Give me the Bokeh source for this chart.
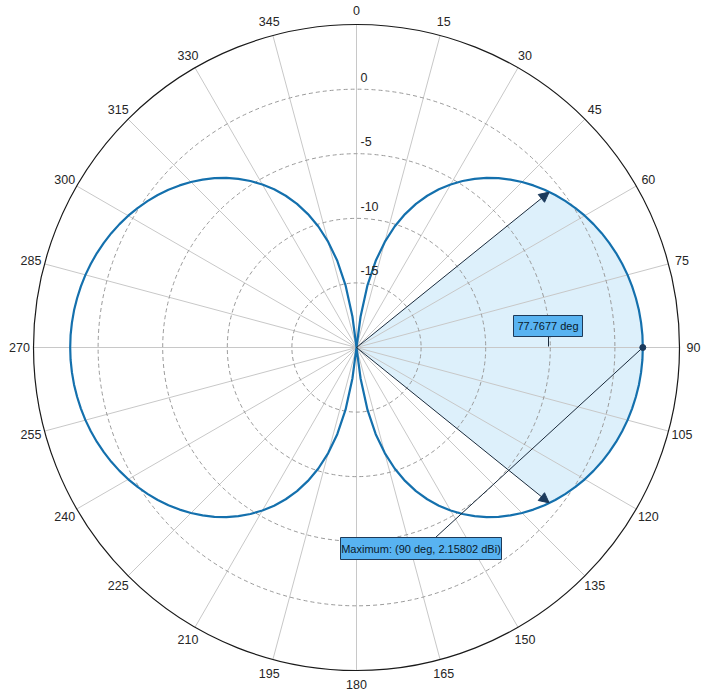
import numpy as np
from bokeh.plotting import figure
from bokeh.models import Arrow, NormalHead
from bokeh.core.properties import value
from bokeh.embed import file_html
from bokeh.resources import INLINE

# ---------------- data ----------------
angles_deg = [i * 2.5 for i in range(144)]  # 0 .. 357.5
gain_dbi = [
    # 0 - 90
    -20.0, -20.0, -20.0, -17.58, -15.09, -13.13, -11.54, -10.18, -9.01, -7.97,
    -7.04, -6.19, -5.43, -4.72, -4.06, -3.46, -2.89, -2.37, -1.88, -1.43,
    -1.00, -0.61, -0.25, 0.09, 0.40, 0.68, 0.94, 1.17, 1.38, 1.56,
    1.72, 1.85, 1.96, 2.05, 2.11, 2.15, 2.16,
    # 92.5 - 180
    2.15, 2.11, 2.05, 1.96, 1.85, 1.72, 1.56, 1.38, 1.17, 0.94,
    0.68, 0.40, 0.09, -0.25, -0.61, -1.00, -1.43, -1.88, -2.37, -2.89,
    -3.46, -4.06, -4.72, -5.43, -6.19, -7.04, -7.97, -9.01, -10.18, -11.54,
    -13.13, -15.09, -17.58, -20.0, -20.0, -20.0,
    # 182.5 - 270
    -20.0, -20.0, -17.58, -15.09, -13.13, -11.54, -10.18, -9.01, -7.97, -7.04,
    -6.19, -5.43, -4.72, -4.06, -3.46, -2.89, -2.37, -1.88, -1.43, -1.00,
    -0.61, -0.25, 0.09, 0.40, 0.68, 0.94, 1.17, 1.38, 1.56, 1.72,
    1.85, 1.96, 2.05, 2.11, 2.15, 2.16,
    # 272.5 - 357.5
    2.15, 2.11, 2.05, 1.96, 1.85, 1.72, 1.56, 1.38, 1.17, 0.94,
    0.68, 0.40, 0.09, -0.25, -0.61, -1.00, -1.43, -1.88, -2.37, -2.89,
    -3.46, -4.06, -4.72, -5.43, -6.19, -7.04, -7.97, -9.01, -10.18, -11.54,
    -13.13, -15.09, -17.58, -20.0, -20.0,
]
angle_ticks = [0, 15, 30, 45, 60, 75, 90, 105, 120, 135, 150, 165,
               180, 195, 210, 225, 240, 255, 270, 285, 300, 315, 330, 345]
angle_tick_labels = [str(a) for a in angle_ticks]
ring_levels = [-15, -10, -5, 0]
ring_labels = ["-15", "-10", "-5", "0"]
r_min, r_max = -20.0, 5.0

max_angle = 90.0
max_gain = 2.15802
beamwidth = 77.7677

# ---------------- helpers ----------------
R_OUT = 323.0                    # px radius of outer circle
K = R_OUT / (r_max - r_min)      # px per dB


def to_xy(db, ang):
    db = np.clip(np.asarray(db, dtype=float), r_min, None)
    a = np.radians(np.asarray(ang, dtype=float))
    r = (db - r_min) * K
    return r * np.sin(a), r * np.cos(a)


W, H = 710, 694
CX, CY = 356, 347   # center location inside figure (px from left / top)

p = figure(width=W, height=H, x_range=(-CX, W - CX), y_range=(-(H - CY), CY),
           output_backend="svg", toolbar_location=None, min_border=0,
           x_axis_location=None, y_axis_location=None)
p.grid.visible = False
p.outline_line_color = None
p.background_fill_color = "white"

FONT = value("Liberation Sans")
TXT = "#262626"

# ---- beamwidth shaded region ----
a_lo = max_angle - beamwidth / 2
a_hi = max_angle + beamwidth / 2
hp = max_gain - 3.0
ang_arr = np.array(angles_deg)
g_arr = np.array(gain_dbi)
sel = (ang_arr > a_lo) & (ang_arr < a_hi)
fa = np.concatenate([[a_lo], ang_arr[sel], [a_hi]])
fg = np.concatenate([[hp], g_arr[sel], [hp]])
fx, fy = to_xy(fg, fa)
p.patch(np.concatenate([[0], fx, [0]]), np.concatenate([[0], fy, [0]]),
        fill_color="#DDF0FB", line_color=None)

# ---- radial grid lines ----
ex, ey = to_xy([r_max] * len(angle_ticks), angle_ticks)
p.segment(x0=[0] * len(angle_ticks), y0=[0] * len(angle_ticks), x1=ex, y1=ey,
          line_color="#C8C8C8", line_width=1)

# ---- dashed magnitude rings ----
ring_r = [(lv - r_min) * K for lv in ring_levels]
p.circle(x=[0] * len(ring_r), y=[0] * len(ring_r), radius=ring_r,
         fill_color=None, line_color="#9A9A9A", line_dash="4 3", line_width=1)

# ---- outer circle ----
p.circle(x=[0], y=[0], radius=[R_OUT], fill_color=None, line_color="#1A1A1A",
         line_width=1.2)

# ---- pattern ----
px_, py_ = to_xy(gain_dbi + [gain_dbi[0]], angles_deg + [angles_deg[0]])
p.line(px_, py_, line_color="#1470AD", line_width=2.2)

# ---- beamwidth arrows ----
for a in (a_lo, a_hi):
    tx, ty = to_xy([hp], [a])
    p.add_layout(Arrow(end=NormalHead(size=10, fill_color="#1B3A5C",
                                      line_color="#1B3A5C", line_width=1),
                       x_start=0, y_start=0, x_end=float(tx[0]), y_end=float(ty[0]),
                       line_color="#1B2B3C", line_width=1))

# ---- maximum marker & callout ----
mx, my = to_xy([max_gain], [max_angle])
p.segment(x0=[mx[0]], y0=[my[0]], x1=[79], y1=[-190], line_color="#1B2B3C",
          line_width=1)
p.scatter(x=mx, y=my, size=6, fill_color="#1B3A5C", line_color="#1B3A5C")

# beamwidth callout tick
p.segment(x0=[192], y0=[11], x1=[192], y1=[1], line_color="#1B2B3C", line_width=1)

p.rect(x=[191.5], y=[21.5], width=[69], height=[21], fill_color="#58B3F1",
       line_color="#1E3A58", line_width=1)
p.text(x=[191.5], y=[21.5], text=["%.4f deg" % beamwidth], text_align="center",
       text_baseline="middle", text_font=FONT, text_font_size="11px",
       text_color="#0B1A2A")

p.rect(x=[64.5], y=[-201], width=[161], height=[22], fill_color="#58B3F1",
       line_color="#1E3A58", line_width=1)
p.text(x=[64.5], y=[-201],
       text=["Maximum: (%g deg, %.5f dBi)" % (max_angle, max_gain)],
       text_align="center", text_baseline="middle", text_font=FONT,
       text_font_size="11px", text_color="#0B1A2A")

# ---- angle labels ----
lx, ly = to_xy([r_max + 14.0 / K] * len(angle_ticks), angle_ticks)
p.text(x=lx, y=ly, text=angle_tick_labels, text_align="center",
       text_baseline="middle", text_font=FONT, text_font_size="12.5px",
       text_color=TXT)

# ---- ring labels ----
p.text(x=[4] * len(ring_r), y=[r + 12 for r in ring_r], text=ring_labels,
       text_align="left", text_baseline="middle", text_font=FONT,
       text_font_size="12.5px", text_color=TXT)

open("out.html", "w").write(file_html(p, INLINE))
